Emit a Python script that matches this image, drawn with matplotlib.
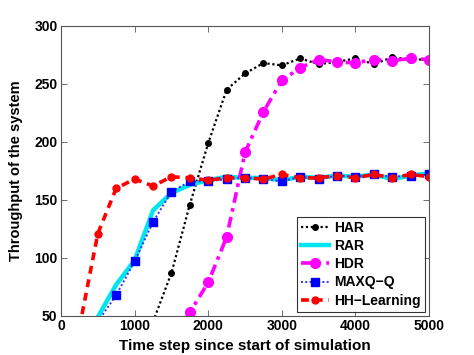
import matplotlib
matplotlib.use("Agg")
import matplotlib.pyplot as plt

plt.rcParams['font.family'] = ['Liberation Sans', 'DejaVu Sans']
plt.rcParams['font.weight'] = 'bold'

har_x = [1250, 1500, 1750, 2000, 2250, 2500, 2750, 3000, 3250, 3500, 3750,
         4000, 4250, 4500, 4750, 5000]
har = [45, 87, 146, 199, 245, 259, 268, 266, 272, 267, 269, 272, 267, 273, 271, 271]

rar_x = [500, 750, 1000, 1250, 1500, 1750, 2000, 2250, 2500, 2750, 3000, 3250,
         3500, 3750, 4000, 4250, 4500, 4750, 5000]
rar = [49, 77, 98, 141, 156, 163, 167, 170, 169, 169, 167, 170, 169, 171, 170,
       172, 168, 171, 173]

hdr_x = [1500, 1750, 2000, 2250, 2500, 2750, 3000, 3250, 3500, 3750, 4000,
         4250, 4500, 4750, 5000]
hdr = [30, 53, 79, 118, 191, 226, 253, 264, 271, 269, 268, 271, 270, 272, 271]

maxq_x = [500, 750, 1000, 1250, 1500, 1750, 2000, 2250, 2500, 2750, 3000,
          3250, 3500, 3750, 4000, 4250, 4500, 4750, 5000]
maxq = [45, 68, 97, 131, 157, 166, 166, 168, 169, 168, 166, 170, 168, 171, 170,
        172, 170, 171, 172]

hh_x = [250, 500, 750, 1000, 1250, 1500, 1750, 2000, 2250, 2500, 2750, 3000,
        3250, 3500, 3750, 4000, 4250, 4500, 4750, 5000]
hh = [40, 121, 160, 168, 162, 170, 169, 167, 169, 169, 168, 172, 169, 169, 171,
      169, 172, 169, 172, 170]

labels = ['HAR', 'RAR', 'HDR', 'MAXQ\u2212Q', 'HH\u2212Learning']
xticks = [0, 1000, 2000, 3000, 4000, 5000]
yticks = [50, 100, 150, 200, 250, 300]

fig = plt.figure(figsize=(4.74, 3.55), dpi=100)
ax = fig.add_axes([0.1287, 0.110, 0.7765, 0.817])

ax.plot(har_x, har, color='black', linestyle=(0, (1, 1.2)), linewidth=1.6,
        marker='o', markersize=4, label=labels[0])
ax.plot(rar_x, rar, color='#00e5f0', linestyle='-', linewidth=3.2,
        label=labels[1])
ax.plot(hdr_x, hdr, color='#ff00ff', linestyle=(0, (3, 1.5, 1, 1.5)), linewidth=2.6,
        marker='o', markersize=7, markerfacecolor='#ff00ff',
        markeredgecolor='#ff00ff', label=labels[2])
ax.plot(maxq_x, maxq, color='#3030ff', linestyle=(0, (1, 1.2)), linewidth=1.4,
        marker='s', markersize=6, markerfacecolor='#0000ff',
        markeredgecolor='#0000ff', label=labels[3])
ax.plot(hh_x, hh, color='#ff0000', linestyle='--', linewidth=2.6,
        dashes=(2.2, 1.6), marker='o', markersize=5, label=labels[4])

ax.set_xlim(0, 5000)
ax.set_ylim(50, 300)
ax.set_xticks(xticks)
ax.set_yticks(yticks)
ax.tick_params(direction='in', top=True, right=True, length=4, width=0.6,
               labelsize=10, colors='#555555', labelcolor='black', pad=2.5)
for lab in ax.get_xticklabels() + ax.get_yticklabels():
    lab.set_fontweight('bold')
for sp in ax.spines.values():
    sp.set_color('#555555')
    sp.set_linewidth(0.8)

ax.set_xlabel('Time step since start of simulation', fontsize=11,
              fontweight='bold', labelpad=4)
ax.set_ylabel('Throughput of the system', fontsize=10.5,
              fontweight='bold', labelpad=8)

leg = ax.legend(loc='lower right', fontsize=10, frameon=True, fancybox=False,
                edgecolor='black', borderaxespad=0.3, handlelength=2.0,
                labelspacing=0.3, borderpad=0.3, handletextpad=0.35)
leg.get_frame().set_linewidth(0.8)
for t in leg.get_texts():
    t.set_fontweight('bold')

fig.savefig('out.png', dpi=100)
